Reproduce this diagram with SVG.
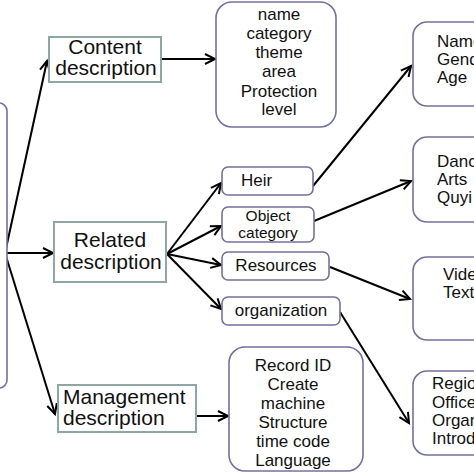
<svg xmlns="http://www.w3.org/2000/svg" width="474" height="474" viewBox="0 0 474 474">
<defs>
<marker id="arr" markerUnits="userSpaceOnUse" markerWidth="14" markerHeight="14" refX="11" refY="6" orient="auto" viewBox="0 0 14 12">
<path d="M1,1 L11,6 L1,11" fill="none" stroke="#000" stroke-width="2"/>
</marker>
<style>
.sq{fill:#fff;stroke:#8fa6a6;stroke-width:2}
.rd{fill:#fff;stroke:#74709e;stroke-width:1.6}
.t{font-family:"Liberation Sans",Arial,sans-serif;fill:#111}
.big{font-size:21px}
.sm{font-size:17px}
.xs{font-size:15.5px}
.c{text-anchor:middle}
.ln{stroke:#000;stroke-width:2;fill:none;marker-end:url(#arr)}
</style>
</defs>
<rect width="474" height="474" fill="#fff"/>
<g id="connectors">
<line class="ln" x1="5" y1="253" x2="47" y2="61"/>
<line class="ln" x1="5" y1="253" x2="53" y2="253"/>
<line class="ln" x1="5" y1="253" x2="55" y2="414"/>
<line class="ln" x1="161" y1="59" x2="215" y2="59"/>
<line class="ln" x1="196" y1="416" x2="228" y2="416"/>
<line class="ln" x1="167" y1="254" x2="221" y2="183"/>
<line class="ln" x1="167" y1="254" x2="221" y2="226"/>
<line class="ln" x1="167" y1="254" x2="221" y2="265"/>
<line class="ln" x1="167" y1="254" x2="221" y2="309"/>
<line class="ln" x1="313" y1="186" x2="411" y2="66"/>
<line class="ln" x1="314" y1="221" x2="411" y2="181"/>
<line class="ln" x1="330" y1="267" x2="410" y2="299"/>
<line class="ln" x1="340" y1="312" x2="409" y2="423"/>
</g>
<g id="root"><rect class="rd" x="-20" y="103" width="27" height="285" rx="8"/></g>
<g id="content">
<rect class="sq" x="49" y="37" width="112" height="45"/>
<text class="t big c" x="105" y="54">Content</text>
<text class="t big c" x="106" y="75">description</text>
</g>
<g id="related">
<rect class="sq" x="54" y="222" width="112" height="60"/>
<text class="t big c" x="110" y="247">Related</text>
<text class="t big c" x="111" y="269">description</text>
</g>
<g id="management">
<rect class="sq" x="58" y="385" width="138" height="47"/>
<text class="t big" x="63" y="404">Management</text>
<text class="t big" x="63" y="425">description</text>
</g>
<g id="content-attrs">
<rect class="rd" x="216" y="2" width="120" height="125" rx="16"/>
<text class="t sm c" x="279" y="20">name</text>
<text class="t sm c" x="279" y="39">category</text>
<text class="t sm c" x="279" y="58">theme</text>
<text class="t sm c" x="279" y="77">area</text>
<text class="t sm c" x="279" y="97">Protection</text>
<text class="t sm c" x="279" y="115">level</text>
</g>
<g id="heir">
<rect class="rd" x="222" y="167" width="91" height="28" rx="6"/>
<text class="t sm" x="241" y="186">Heir</text>
</g>
<g id="object">
<rect class="rd" x="222" y="207" width="92" height="35" rx="6"/>
<text class="t xs c" x="268" y="221">Object</text>
<text class="t xs c" x="268" y="238">category</text>
</g>
<g id="resources">
<rect class="rd" x="222" y="252" width="107" height="28" rx="6"/>
<text class="t sm c" x="276" y="271">Resources</text>
</g>
<g id="organization">
<rect class="rd" x="222" y="297" width="118" height="28" rx="6"/>
<text class="t sm c" x="281" y="316">organization</text>
</g>
<g id="management-attrs">
<rect class="rd" x="229" y="347" width="134" height="124" rx="16"/>
<text class="t sm c" x="293" y="371">Record ID</text>
<text class="t sm c" x="293" y="390">Create</text>
<text class="t sm c" x="293" y="409">machine</text>
<text class="t sm c" x="293" y="428">Structure</text>
<text class="t sm c" x="293" y="447">time code</text>
<text class="t sm c" x="293" y="466">Language</text>
</g>
<g id="heir-attrs">
<rect class="rd" x="413" y="22" width="90" height="84" rx="14"/>
<text class="t sm" x="437" y="47">Name</text>
<text class="t sm" x="437" y="65">Gender</text>
<text class="t sm" x="437" y="83">Age</text>
</g>
<g id="object-attrs">
<rect class="rd" x="413" y="137" width="90" height="85" rx="14"/>
<text class="t sm" x="437" y="167">Dance</text>
<text class="t sm" x="437" y="185">Arts</text>
<text class="t sm" x="437" y="203">Quyi</text>
</g>
<g id="resource-attrs">
<rect class="rd" x="413" y="257" width="90" height="83" rx="14"/>
<text class="t sm" x="443" y="280">Video</text>
<text class="t sm" x="443" y="298">Text</text>
</g>
<g id="organization-attrs">
<rect class="rd" x="413" y="371" width="90" height="84" rx="14"/>
<text class="t sm" x="432" y="389">Region</text>
<text class="t sm" x="432" y="408">Office</text>
<text class="t sm" x="432" y="426">Organization</text>
<text class="t sm" x="432" y="444">Introduction</text>
</g>
</svg>
